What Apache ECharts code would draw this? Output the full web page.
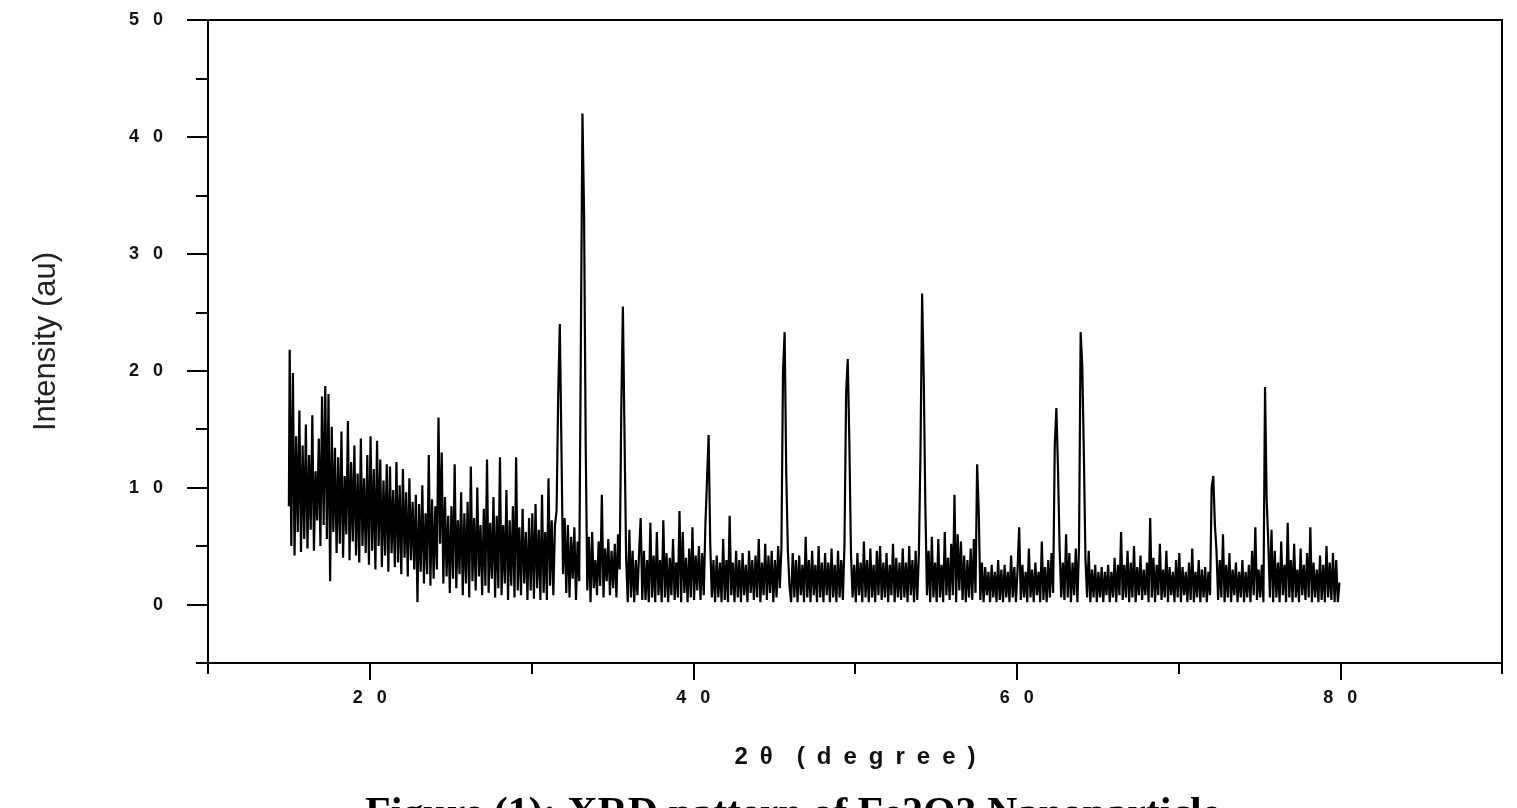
<!DOCTYPE html>
<html>
<head>
<meta charset="utf-8">
<script src="https://cdn.jsdelivr.net/npm/echarts@6/dist/echarts.min.js"></script>
<style>
html,body{margin:0;padding:0;background:#fff;}
#chart{width:1517px;height:808px;}
</style>
</head>
<body>
<div id="chart"></div>
<script>
// XRD scan: 2θ from 15.0° to 80.0° in 0.1° steps
const scanStart = 15.0;
const scanStep = 0.1;
// Intensity values (au), one row per degree
const intensity = [
  8.4, 21.8, 5.0, 19.8, 4.2, 14.4, 6.2, 16.6, 4.5, 13.6,   // 15
  5.6, 15.4, 4.8, 12.8, 6.4, 16.2, 4.6, 11.4, 7.2, 14.2,   // 16
  5.0, 17.8, 6.8, 18.7, 5.6, 18.0, 2.0, 15.2, 6.2, 13.4,   // 17
  4.4, 12.6, 5.2, 14.8, 4.0, 11.0, 6.0, 15.7, 3.8, 12.2,   // 18
  5.4, 13.6, 4.2, 11.2, 3.6, 14.2, 5.0, 10.8, 4.4, 12.8,   // 19
  3.4, 14.4, 4.6, 11.6, 3.0, 14.0, 5.0, 12.4, 3.2, 10.6,   // 20
  4.2, 12.0, 2.8, 11.8, 4.4, 9.8, 3.2, 12.2, 3.6, 10.2,    // 21
  2.6, 11.6, 4.0, 9.6, 2.4, 10.8, 3.8, 8.8, 3.0, 9.4,      // 22
  0.2, 8.6, 2.8, 10.2, 1.8, 7.8, 2.6, 12.8, 1.6, 9.0,      // 23
  2.2, 8.4, 3.0, 16.0, 5.2, 13.0, 1.8, 9.2, 2.4, 7.6,      // 24
  1.0, 8.4, 2.2, 12.0, 1.4, 7.2, 2.6, 9.6, 0.8, 7.8,       // 25
  1.8, 8.8, 0.6, 11.8, 2.0, 7.4, 1.2, 10.0, 2.4, 6.8,      // 26
  0.8, 8.2, 1.6, 12.4, 1.0, 7.0, 2.2, 9.2, 0.6, 7.6,       // 27
  1.4, 12.6, 0.8, 6.8, 1.8, 9.8, 0.4, 7.2, 1.6, 8.4,       // 28
  0.6, 12.6, 1.2, 6.6, 0.8, 8.2, 1.8, 6.2, 0.4, 7.4,       // 29
  1.2, 7.8, 0.5, 8.6, 1.4, 6.4, 0.4, 9.4, 1.0, 6.2,        // 30
  0.4, 10.8, 1.6, 7.2, 0.8, 6.8, 8.0, 17.8, 24.0, 13.6,    // 31
  2.6, 7.4, 1.0, 6.8, 0.6, 5.8, 2.2, 6.6, 0.4, 5.4,        // 32
  2.0, 22.0, 42.0, 33.5, 13.8, 1.2, 5.8, 0.2, 6.2, 1.4,    // 33
  3.8, 0.8, 5.4, 1.6, 9.4, 0.6, 4.8, 2.0, 5.6, 0.8,        // 34
  4.6, 1.4, 5.2, 0.6, 6.0, 3.0, 16.6, 25.5, 14.6, 4.0,     // 35
  0.2, 6.4, 0.6, 4.6, 0.2, 3.8, 0.8, 4.4, 7.4, 0.4,        // 36
  4.6, 0.4, 3.8, 0.2, 7.0, 0.6, 4.2, 0.2, 6.2, 0.8,        // 37
  3.8, 0.2, 7.2, 0.6, 4.4, 0.2, 4.0, 0.8, 5.6, 0.4,        // 38
  3.6, 0.6, 8.0, 0.2, 6.2, 1.0, 4.0, 0.2, 4.8, 0.6,        // 39
  6.6, 0.4, 4.2, 1.2, 5.0, 0.4, 4.4, 0.8, 6.8, 10.6,       // 40
  14.5, 5.2, 0.6, 3.8, 0.2, 4.2, 0.6, 3.6, 0.2, 5.6,       // 41
  0.4, 3.8, 0.2, 7.6, 0.8, 3.6, 0.2, 4.6, 0.6, 3.8,        // 42
  0.2, 4.4, 0.8, 3.4, 0.2, 4.6, 1.0, 3.8, 0.4, 4.2,        // 43
  0.6, 5.6, 0.2, 3.6, 0.8, 5.2, 0.4, 4.2, 1.0, 4.6,        // 44
  0.2, 3.8, 0.6, 5.0, 1.4, 4.8, 20.0, 23.3, 11.2, 4.6,     // 45
  1.6, 0.2, 4.4, 0.6, 3.8, 0.2, 4.2, 0.8, 3.4, 0.2,        // 46
  5.8, 0.6, 3.8, 0.2, 4.6, 0.8, 3.4, 0.2, 5.0, 0.6,        // 47
  3.6, 0.2, 4.4, 0.8, 3.6, 0.2, 4.8, 0.6, 3.4, 0.2,        // 48
  4.6, 0.6, 3.8, 0.4, 5.2, 18.0, 21.0, 14.0, 4.4, 0.6,     // 49
  3.4, 0.2, 4.4, 0.8, 3.6, 0.2, 5.4, 0.6, 3.8, 0.2,        // 50
  4.8, 0.6, 3.4, 0.2, 4.6, 0.8, 5.0, 0.4, 3.6, 0.6,        // 51
  4.4, 0.2, 3.4, 0.8, 5.2, 0.2, 4.0, 0.6, 3.6, 0.4,        // 52
  4.8, 0.6, 3.6, 0.2, 5.0, 0.8, 3.8, 0.2, 4.6, 0.4,        // 53
  4.4, 13.2, 26.6, 19.4, 8.4, 0.8, 4.6, 0.2, 5.8, 0.6,     // 54
  3.6, 0.2, 5.6, 0.6, 3.4, 0.2, 6.2, 0.8, 4.0, 0.4,        // 55
  5.2, 0.8, 9.4, 0.2, 6.0, 1.2, 5.4, 0.4, 4.2, 0.2,        // 56
  3.8, 0.6, 4.8, 0.4, 5.6, 1.0, 12.0, 8.0, 0.4, 3.6,       // 57
  0.2, 3.2, 0.8, 2.8, 0.2, 3.4, 0.6, 2.8, 0.2, 3.8,        // 58
  0.4, 3.0, 0.2, 3.4, 0.6, 2.8, 0.2, 4.2, 0.6, 3.2,        // 59
  0.2, 3.0, 6.6, 0.4, 3.4, 0.6, 2.8, 0.2, 4.8, 0.6,        // 60
  3.0, 0.2, 3.6, 0.8, 2.8, 0.2, 5.4, 0.4, 3.2, 0.2,        // 61
  3.8, 0.6, 4.4, 1.0, 13.6, 16.8, 11.6, 4.8, 0.6, 3.6,     // 62
  0.4, 6.0, 0.6, 4.4, 0.2, 3.6, 0.8, 4.8, 0.2, 5.0,        // 63
  23.3, 20.4, 12.8, 3.8, 0.6, 4.6, 0.2, 3.0, 0.6, 3.4,     // 64
  0.2, 2.8, 0.6, 3.2, 0.2, 2.8, 0.8, 3.4, 0.2, 2.8,        // 65
  0.6, 4.0, 0.2, 3.4, 0.8, 6.2, 0.4, 3.4, 0.6, 4.6,        // 66
  0.2, 3.6, 0.6, 5.0, 0.2, 3.2, 0.8, 4.2, 0.4, 3.0,        // 67
  0.8, 3.6, 0.2, 7.4, 0.6, 4.0, 0.2, 3.4, 0.8, 5.2,        // 68
  0.4, 3.0, 0.6, 4.6, 0.2, 3.2, 0.8, 2.8, 0.2, 3.8,        // 69
  0.6, 4.4, 0.2, 3.2, 0.8, 2.8, 0.2, 3.6, 0.4, 4.8,        // 70
  0.2, 2.8, 0.6, 3.8, 0.2, 3.0, 0.6, 3.2, 0.2, 2.8,        // 71
  0.8, 10.0, 11.0, 6.8, 4.6, 0.4, 3.8, 0.6, 6.0, 0.2,      // 72
  3.4, 0.6, 4.4, 0.2, 3.0, 0.8, 3.6, 0.2, 2.8, 0.6,        // 73
  3.8, 0.2, 2.8, 0.6, 3.4, 0.2, 4.6, 0.8, 6.6, 0.4,        // 74
  3.0, 0.6, 3.4, 0.2, 18.6, 9.0, 5.4, 0.6, 6.4, 0.2,       // 75
  4.6, 0.6, 3.6, 0.2, 5.4, 0.8, 3.4, 0.2, 7.0, 0.6,        // 76
  3.8, 0.2, 5.2, 0.6, 3.0, 0.2, 4.8, 0.8, 3.4, 0.4,        // 77
  4.4, 0.6, 6.6, 0.2, 3.6, 0.6, 3.0, 0.2, 4.2, 0.4,        // 78
  3.4, 0.2, 5.0, 0.6, 3.6, 0.4, 4.4, 0.2, 3.8, 0.2,        // 79
  1.8                                                      // 80
];
const xLabelTicks = [20, 40, 60, 80];
const yLabelTicks = [0, 10, 20, 30, 40, 50];
const xAxisName = '2\u2002θ\u2003(\u2002d\u2002e\u2002g\u2002r\u2002e\u2002e\u2002)';
const yAxisName = 'Intensity (au)';
const captionText = 'Figure (1): XRD pattern of Fe2O3 Nanoparticle';

const seriesData = intensity.map((v, i) => [+(scanStart + i * scanStep).toFixed(2), v]);
const spaced = v => String(v).split('').join('\u2002 ');

const chart = echarts.init(document.getElementById('chart'), null, {renderer: 'canvas'});
const lineCol = '#000';
const labelStyle = {color: '#111', fontFamily: 'Liberation Sans, Arial, sans-serif', fontSize: 18, fontWeight: 'bold'};

chart.setOption({
  animation: false,
  backgroundColor: '#fff',
  grid: {left: 208, right: 15, top: 20, bottom: 145, show: true, borderColor: lineCol, borderWidth: 2, backgroundColor: 'transparent'},
  xAxis: [
    {
      type: 'value', min: 10, max: 90, interval: 10, position: 'bottom',
      axisLine: {show: true, onZero: false, lineStyle: {color: lineCol, width: 2}},
      axisTick: {show: true, length: 11, lineStyle: {color: lineCol, width: 2}},
      axisLabel: {show: false},
      splitLine: {show: false}
    },
    {
      type: 'value', min: 10, max: 90, interval: 10, position: 'bottom',
      axisLine: {show: false, onZero: false},
      axisTick: {show: true, length: 17, customValues: xLabelTicks, lineStyle: {color: lineCol, width: 2}},
      axisLabel: Object.assign({show: true, margin: 26, customValues: xLabelTicks, formatter: spaced}, labelStyle),
      splitLine: {show: false},
      name: xAxisName, nameLocation: 'middle', nameGap: 82,
      nameTextStyle: {color: '#111', fontFamily: 'Liberation Sans, Arial, sans-serif', fontSize: 24, fontWeight: 'bold'}
    }
  ],
  yAxis: [
    {
      type: 'value', min: -5, max: 50, interval: 5, position: 'left',
      axisLine: {show: true, onZero: false, lineStyle: {color: lineCol, width: 2}},
      axisTick: {show: true, length: 12, lineStyle: {color: lineCol, width: 2}},
      axisLabel: {show: false},
      splitLine: {show: false}
    },
    {
      type: 'value', min: -5, max: 50, interval: 5, position: 'left',
      axisLine: {show: false, onZero: false},
      axisTick: {show: true, length: 21, customValues: yLabelTicks, lineStyle: {color: lineCol, width: 2}},
      axisLabel: Object.assign({show: true, margin: 45, customValues: yLabelTicks, formatter: spaced}, labelStyle),
      splitLine: {show: false},
      name: yAxisName, nameLocation: 'middle', nameGap: 146,
      nameTextStyle: {color: '#222', fontFamily: 'Liberation Sans, Arial, sans-serif', fontSize: 31}
    }
  ],
  series: [{
    type: 'line',
    xAxisIndex: 0, yAxisIndex: 0,
    data: seriesData,
    showSymbol: false,
    symbol: 'none',
    step: 'middle',
    lineStyle: {color: '#000', width: 2.2, join: 'miter', cap: 'butt'},
    clip: true
  }],
  graphic: [{
    type: 'text',
    left: 365,
    top: 794,
    style: {
      text: captionText,
      font: 'bold 42px "Liberation Serif", "Times New Roman", serif',
      fill: '#000'
    }
  }]
});
</script>
</body>
</html>
